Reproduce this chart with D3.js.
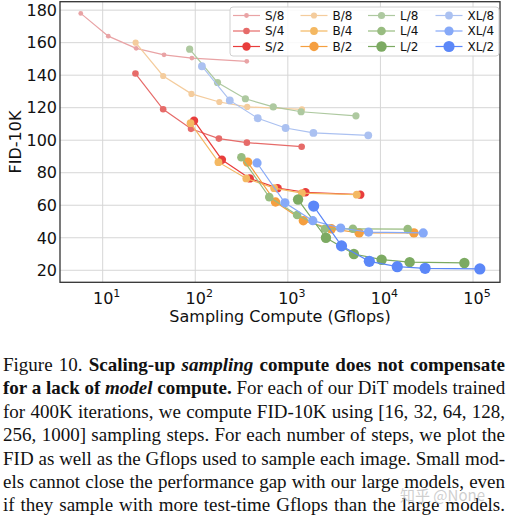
<!DOCTYPE html>
<meta charset="utf-8">
<style>
    body { margin: 0; background: #fff; }
    #wrap { position: relative; width: 508px; height: 517px; overflow: hidden; }
    svg text { font-family: "DejaVu Sans", sans-serif; fill: #111; }
    #caption {
        position: absolute; left: 3px; top: 353px; width: 502px;
        font-family: "Liberation Serif", "Times New Roman", serif;
        font-size: 19px; line-height: 23.4px; color: #111;
    }
    #caption .ln { white-space: nowrap; text-align: justify; text-align-last: justify; }
    #mark {
        position: absolute; left: 400px; top: 484px;
        font-family: "Noto Sans CJK SC", sans-serif; font-size: 15px;
        color: rgba(190, 190, 190, 0.75);
    }
</style>
<body>
<div id="wrap">
    <div id="chart"></div>
    <div id="caption">
        <div class="ln">Figure 10. <b>Scaling-up <i>sampling</i> compute does not compensate</b></div>
        <div class="ln"><b>for a lack of <i>model</i> compute.</b> For each of our DiT models trained</div>
        <div class="ln">for 400K iterations, we compute FID-10K using [16, 32, 64, 128,</div>
        <div class="ln">256, 1000] sampling steps. For each number of steps, we plot the</div>
        <div class="ln">FID as well as the Gflops used to sample each image. Small mod-</div>
        <div class="ln">els cannot close the performance gap with our large models, even</div>
        <div class="ln">if they sample with more test-time Gflops than the large models.</div>
    </div>
    <div id="mark">知乎 @None</div>
</div>
</body>
<script src="https://cdn.jsdelivr.net/npm/d3@7"></script>
<script>
    // series, in plotting order
    var seriesNames = ["S/8", "S/4", "S/2", "B/8", "B/4", "B/2", "L/8", "L/4", "L/2", "XL/8", "XL/4", "XL/2"];

    // sampling compute (Gflops) for 16, 32, 64, 128, 256, 1000 steps
    var computeGflops = [
        [5.8, 11.5, 23, 46, 92, 360],
        [22.6, 45, 90, 180, 361, 1410],
        [97, 194, 388, 776, 1550, 6060],
        [22.7, 45, 91, 182, 364, 1420],
        [89, 178, 356, 712, 1420, 5560],
        [368, 736, 1470, 2950, 5890, 23000],
        [87, 174, 348, 696, 1390, 5440],
        [315, 630, 1260, 2520, 5040, 19700],
        [1290, 2580, 5170, 10300, 20700, 80700],
        [118, 236, 473, 946, 1890, 7390],
        [465, 930, 1860, 3720, 7440, 29000],
        [1900, 3800, 7590, 15200, 30400, 118600]
    ];

    // FID-10K
    var fid10k = [
        [178, 164, 156.5, 152.5, 150.5, 148.5],
        [141, 119, 107, 101, 98.5, 96],
        [112, 88, 76.5, 70.5, 68, 66.5],
        [160, 139.5, 128.5, 123.5, 120.5, 119],
        [110.5, 86.5, 76.5, 70.5, 67.5, 66.5],
        [86.5, 62, 50.5, 45.5, 43, 43],
        [156, 135.5, 125.5, 120.5, 117.5, 115],
        [89.5, 65, 54, 45.5, 45.5, 45.3],
        [63.5, 40, 30, 26.5, 25, 24.5],
        [145.5, 124.5, 113.5, 107.5, 104.5, 103],
        [86, 61.5, 50.5, 46, 43.5, 43],
        [59.5, 35, 25.5, 22.2, 21.2, 20.8]
    ];

    var xTicks = [1e1, 1e2, 1e3, 1e4, 1e5];
    var xTickExp = ["1", "2", "3", "4", "5"];
    var yTicks = [20, 40, 60, 80, 100, 120, 140, 160, 180];

    // styling per series
    var colors = ["#e9a3a5", "#e66b69", "#e83d3c",
                  "#f4cc9d", "#f4b862", "#f59f40",
                  "#aec9a0", "#98bc80", "#7caa62",
                  "#abc1f1", "#86a9f8", "#5b87f8"];
    var radius = [2.4, 3.3, 4.2, 3.1, 3.9, 4.7, 3.6, 4.3, 5.2, 3.9, 4.6, 5.6];

    var W = 508, H = 340;
    var plot = { left: 60, right: 500, top: 1.7, bottom: 282.3 };

    var x = d3.scaleLog().domain([3.46, 1.957e5]).range([plot.left, plot.right]);
    var y = d3.scaleLinear().domain([12.6, 185.2]).range([plot.bottom, plot.top]);

    var svg = d3.select("#chart").append("svg")
        .attr("width", W)
        .attr("height", H);

    // grid
    svg.append("g").selectAll("line")
        .data(xTicks).enter().append("line")
        .attr("x1", function (d) { return x(d); })
        .attr("x2", function (d) { return x(d); })
        .attr("y1", plot.top).attr("y2", plot.bottom)
        .attr("stroke", "#d6d6d6").attr("stroke-width", 1);

    svg.append("g").selectAll("line")
        .data(yTicks).enter().append("line")
        .attr("y1", function (d) { return y(d); })
        .attr("y2", function (d) { return y(d); })
        .attr("x1", plot.left).attr("x2", plot.right)
        .attr("stroke", "#d6d6d6").attr("stroke-width", 1);

    // series
    var line = d3.line()
        .x(function (d) { return x(d[0]); })
        .y(function (d) { return y(d[1]); });

    seriesNames.forEach(function (name, i) {
        var pts = computeGflops[i].map(function (c, j) { return [c, fid10k[i][j]]; });
        var g = svg.append("g").attr("class", "series");
        g.append("path")
            .datum(pts)
            .attr("d", line)
            .attr("fill", "none")
            .attr("stroke", colors[i])
            .attr("stroke-width", 1.2);
        g.selectAll("circle")
            .data(pts).enter().append("circle")
            .attr("cx", function (d) { return x(d[0]); })
            .attr("cy", function (d) { return y(d[1]); })
            .attr("r", radius[i])
            .attr("fill", colors[i]);
    });

    // frame
    svg.append("rect")
        .attr("x", plot.left).attr("y", plot.top)
        .attr("width", plot.right - plot.left)
        .attr("height", plot.bottom - plot.top)
        .attr("fill", "none")
        .attr("stroke", "#333")
        .attr("stroke-width", 1.3);

    // y tick labels
    svg.append("g").selectAll("text")
        .data(yTicks).enter().append("text")
        .attr("x", 57)
        .attr("y", function (d) { return y(d); })
        .attr("dy", "0.36em")
        .attr("text-anchor", "end")
        .style("font-size", "16px")
        .text(function (d) { return d; });

    // x tick labels 10^n
    var xt = svg.append("g").selectAll("text")
        .data(xTicks).enter().append("text")
        .attr("x", function (d) { return x(d) + 4; })
        .attr("y", 303.5)
        .attr("text-anchor", "middle")
        .style("font-size", "16px");
    xt.append("tspan").text("10");
    xt.append("tspan")
        .attr("dy", -7)
        .style("font-size", "11px")
        .text(function (d, i) { return xTickExp[i]; });

    // axis titles
    svg.append("text")
        .attr("x", (plot.left + plot.right) / 2)
        .attr("y", 322)
        .attr("text-anchor", "middle")
        .style("font-size", "16px")
        .text("Sampling Compute (Gflops)");

    svg.append("text")
        .attr("transform", "translate(21," + ((plot.top + plot.bottom) / 2) + ") rotate(-90)")
        .attr("text-anchor", "middle")
        .style("font-size", "16px")
        .text("FID-10K");

    // legend
    var legend = svg.append("g").attr("class", "legend");
    legend.append("rect")
        .attr("x", 230).attr("y", 7)
        .attr("width", 269).attr("height", 49)
        .attr("rx", 3)
        .attr("fill", "#fff").attr("fill-opacity", 0.85)
        .attr("stroke", "#d0d0d0");

    var legendColX = [233, 300.5, 368, 435.5];
    var legendRowY = [15.5, 31, 46.5];

    seriesNames.forEach(function (name, i) {
        var cx = legendColX[Math.floor(i / 3)], cy = legendRowY[i % 3];
        var e = legend.append("g").attr("transform", "translate(" + cx + "," + cy + ")");
        e.append("line")
            .attr("x1", 0).attr("x2", 27)
            .attr("stroke", colors[i]).attr("stroke-width", 1.2);
        e.append("circle")
            .attr("cx", 13.5).attr("r", radius[i])
            .attr("fill", colors[i]);
        e.append("text")
            .attr("x", 32).attr("dy", "0.36em")
            .style("font-size", "12px")
            .text(name);
    });
</script>
